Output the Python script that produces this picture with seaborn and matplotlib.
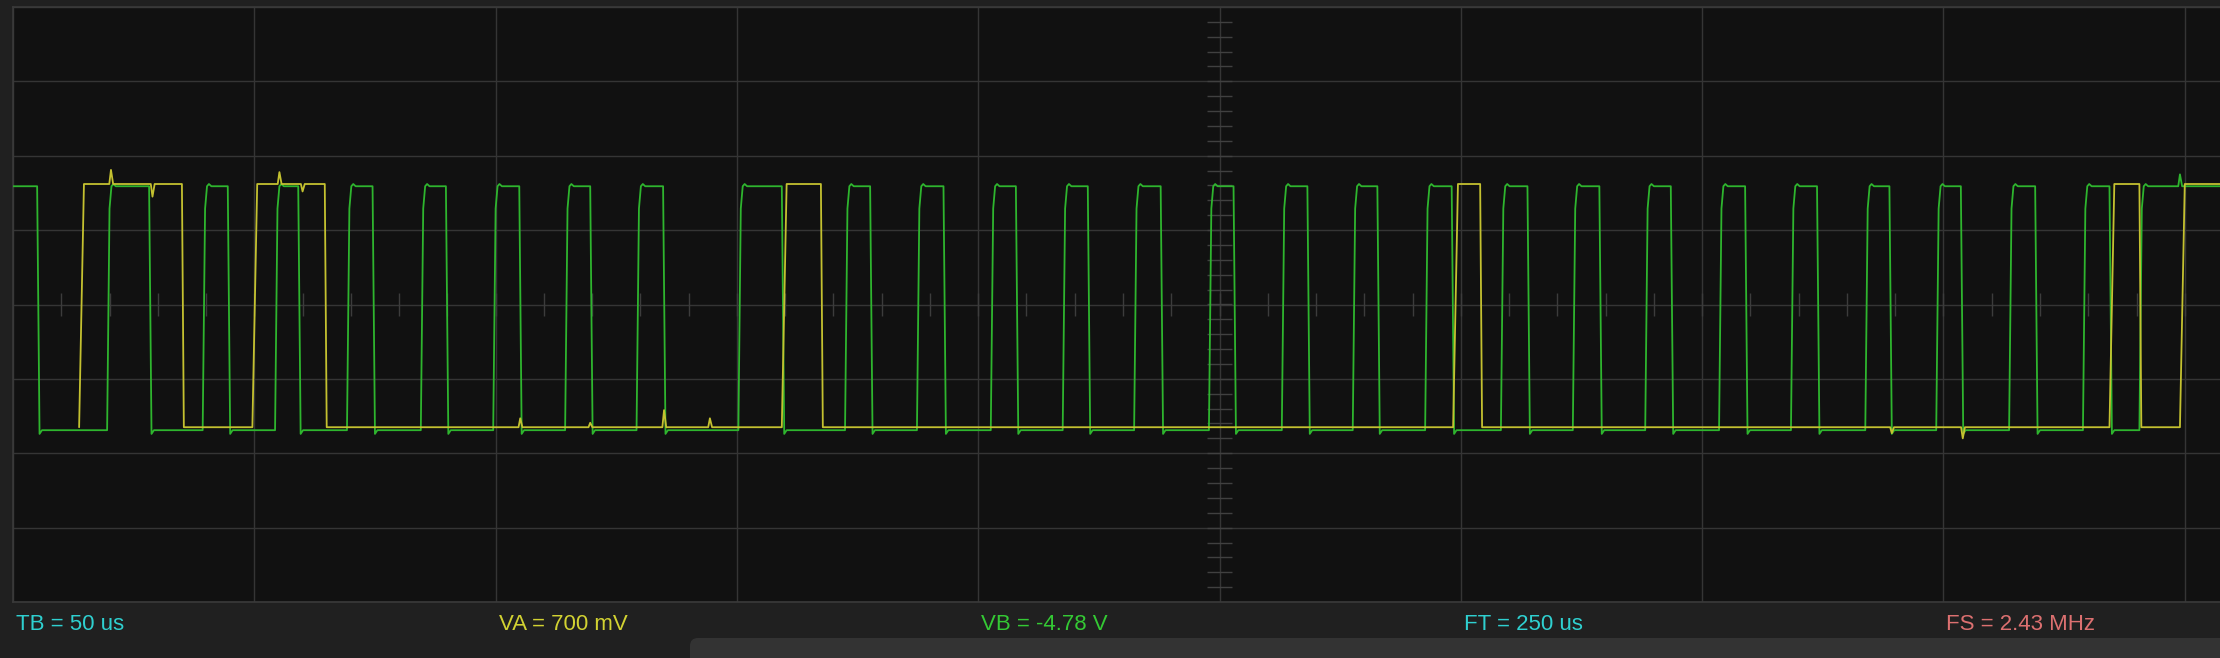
import numpy as np
import pandas as pd
import matplotlib
matplotlib.use("Agg")
import matplotlib.pyplot as plt
import seaborn as sns
from matplotlib import transforms
from matplotlib.patches import FancyBboxPatch

# ── scope settings (time in us, amplitude in screen divisions) ───────────────
TB_US = 50
T_MAX = 457.3
TRIGGER_US = 250

GREEN_HIGH, GREEN_LOW = 1.59, -1.69
YELLOW_HIGH, YELLOW_LOW = 1.62, -1.65

# channel B (green) pulse edges
green_rise = [-5.0, 19.5, 39.3, 54.3, 69.2, 84.5, 99.5, 114.4, 129.2, 150.3,
              172.4, 187.3, 202.6, 217.5, 232.3, 247.8, 262.9, 277.6, 292.6,
              308.3, 323.2, 338.2, 353.5, 368.4, 383.8, 398.5, 413.6, 428.9, 440.6]
green_fall = [5.0, 28.2, 44.5, 59.1, 74.5, 89.7, 104.9, 119.6, 134.7, 159.3,
              177.6, 192.8, 207.8, 222.7, 237.8, 252.9, 268.2, 282.7, 298.1,
              313.8, 328.7, 343.5, 358.9, 373.8, 388.8, 403.6, 419.0, 434.4, 470.0]
green_glitch_t = [449.0]
green_glitch_dv = [0.16]

# channel A (yellow)
yellow_rise = [13.7, 49.6, 159.3, 298.4, 434.4, 449.0]
yellow_fall = [35.0, 64.6, 167.4, 304.0, 440.6, 470.0]
yellow_glitch_t = [20.3, 28.9, 55.2, 60.0, 105.1, 119.6, 134.9, 144.4, 389.3, 404.0]
yellow_glitch_dv = [0.19, -0.17, 0.16, -0.10, 0.12, 0.06, 0.23, 0.12, -0.08, -0.15]

labels = ["TB = 50 us", "VA = 700 mV", "VB = -4.78 V", "FT = 250 us", "FS = 2.43 MHz"]
label_colors = ["#2fd0d0", "#d2d232", "#34c934", "#2fd0d0", "#dc7070"]
label_pos_us = [0, 100, 200, 300, 400]

BG = "#111111"
FRAME = "#202020"
GRID = "#353535"


def trace(rise, fall, lo, hi, gl_t, gl_dv, rounded):
    ts, vs = [], []
    for r, f in zip(rise, fall):
        if rounded:
            ts += [r, r + 0.5, r + 0.9, r + 1.3, r + 1.8, f, f + 0.5, f + 1.0]
            vs += [lo, hi - 0.3, hi, hi + 0.03, hi, hi, lo - 0.05, lo]
        else:
            ts += [r, r + 1.0, f, f + 0.4]
            vs += [lo, hi, hi, lo]
    ts, vs = np.array(ts), np.array(vs)
    gt, gv = [], []
    for t, dv in zip(gl_t, gl_dv):
        for dt, k in [(-0.35, 0), (0, 1), (0.45, 0)]:
            gt.append(t + dt)
            gv.append(np.interp(t + dt, ts, vs) + k * dv)
    t_all = np.concatenate([ts, gt])
    v_all = np.concatenate([vs, gv])
    order = np.argsort(t_all, kind="stable")
    return pd.DataFrame({"t": t_all[order], "v": v_all[order]})


green = trace(green_rise, green_fall, GREEN_LOW, GREEN_HIGH,
              green_glitch_t, green_glitch_dv, True)
yellow = trace(yellow_rise, yellow_fall, YELLOW_LOW, YELLOW_HIGH,
               yellow_glitch_t, yellow_glitch_dv, False)

sns.set_theme(style="dark")
plt.rcParams["font.family"] = ["Liberation Sans", "DejaVu Sans"]

fig = plt.figure(figsize=(22.2, 6.58), dpi=100, facecolor=FRAME)
ax = fig.add_axes([13 / 2220, 56 / 658, 2207 / 2220, 595 / 658])
ax.set_facecolor(BG)

# grid and graticule
ax.set_xticks(np.arange(0, T_MAX, TB_US))
ax.set_yticks(np.arange(-4, 4.1, 1))
ax.grid(True, color=GRID, lw=1.0)
ax.set_axisbelow(True)
ax.tick_params(length=0, labelbottom=False, labelleft=False)
ax.vlines(np.arange(10, T_MAX, 10), -0.155, 0.155, color="#3c3c3c", lw=1.0, zorder=1)
ax.hlines(np.arange(-3.8, 3.9, 0.2), TRIGGER_US - 2.5, TRIGGER_US + 2.5,
          color="#404040", lw=1.0, zorder=1)

sns.lineplot(data=green, x="t", y="v", sort=False, estimator=None,
             color="#2eb52e", lw=1.3, ax=ax, zorder=3)
sns.lineplot(data=yellow, x="t", y="v", sort=False, estimator=None,
             color="#c4c130", lw=1.3, ax=ax, zorder=4)

ax.set_xlim(0, T_MAX)
ax.set_ylim(-4, 4)
ax.set_xlabel("")
ax.set_ylabel("")
for side in ["left", "top", "bottom"]:
    ax.spines[side].set_color("#3a3a3a")
    ax.spines[side].set_linewidth(1.2)
ax.spines["right"].set_visible(False)

# status bar
trans = transforms.blended_transform_factory(ax.transData, fig.transFigure)
for txt, col, pos in zip(labels, label_colors, label_pos_us):
    ax.text(pos + 0.6, 28 / 658, txt, color=col, fontsize=16, transform=trans,
            ha="left", va="baseline", clip_on=False)

box = FancyBboxPatch((690, -20), 1600, 40, boxstyle="round,pad=0,rounding_size=8",
                     facecolor="#333333", edgecolor="none",
                     transform=transforms.IdentityTransform())
fig.add_artist(box)

fig.savefig("out.png", dpi=100, facecolor=fig.get_facecolor())
